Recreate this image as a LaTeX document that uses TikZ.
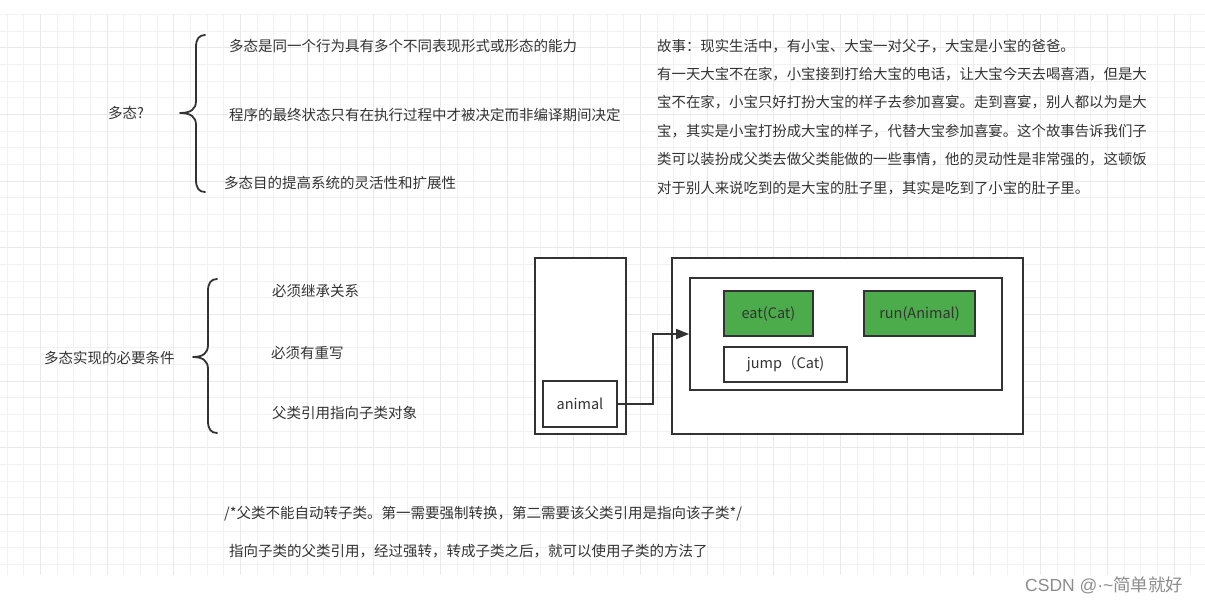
\documentclass[tikz,border=0pt]{standalone}
\usepackage{fontspec}
\setmainfont{Noto Sans CJK SC}
\newfontfamily\wmlatin{Liberation Sans}
\usetikzlibrary{arrows.meta}
\definecolor{txt}{HTML}{333333}
\definecolor{edge}{HTML}{333333}
\definecolor{gminor}{HTML}{F1F1F1}
\definecolor{gmajor}{HTML}{E9E9E9}
\definecolor{boxgreen}{RGB}{76,172,76}
\definecolor{wm}{HTML}{8C8C8C}
\tikzset{
  gridminor/.style={draw=gminor, line width=1pt},
  gridmajor/.style={draw=gmajor, line width=1pt},
  label/.style={anchor=west, inner sep=0pt, text=txt, font=\fontsize{14.5}{17}\selectfont},
  story/.style={anchor=west, inner sep=0pt, text=txt, font=\fontsize{14.4}{17}\selectfont},
  frame/.style={draw=edge, line width=1.8pt, fill=white, inner sep=0pt, text=txt, font=\fontsize{14.5}{17}\selectfont},
  greenbox/.style={frame, fill=boxgreen},
  bracepath/.style={draw=edge, line width=1.8pt, line cap=round, line join=round},
  link/.style={draw=edge, line width=1.8pt, -{Triangle[length=13pt,width=10pt]}},
}
\begin{document}
\begin{tikzpicture}[x=1pt,y=-1pt]
\useasboundingbox (0,0) rectangle (1205,606);
\fill[white] (0,0) rectangle (1205,606);
% grid
\foreach \k in {0,...,71} { \draw[gridminor] (7.3+16.667*\k,14) -- (7.3+16.667*\k,575); }
\foreach \k in {0,...,33} { \draw[gridminor] (0,14.5+16.667*\k) -- (1205,14.5+16.667*\k); }
\foreach \k in {2,6,...,70} { \draw[gridmajor] (7.3+16.667*\k,14) -- (7.3+16.667*\k,575); }
\foreach \k in {2,6,...,30} { \draw[gridmajor] (0,14.5+16.667*\k) -- (1205,14.5+16.667*\k); }

% section 1
\node[label] (q) at (108,113) {多态?};
\draw[bracepath] (205,35) .. controls (199,35) and (196,39) .. (196,47) -- (196,101)
  .. controls (196,109) and (191,113) .. (180,113)
  .. controls (191,113) and (196,117) .. (196,125) -- (196,180)
  .. controls (196,188) and (199,192) .. (205,192);
\node[label] (d1) at (229,46) {多态是同一个行为具有多个不同表现形式或形态的能力};
\node[label] (d2) at (229,115) {程序的最终状态只有在执行过程中才被决定而非编译期间决定};
\node[label] (d3) at (224,183) {多态目的提高系统的灵活性和扩展性};

% story
\node[story] (s1) at (657,46) {故事：现实生活中，有小宝、大宝一对父子，大宝是小宝的爸爸。};
\node[story] (s2) at (657,74) {有一天大宝不在家，小宝接到打给大宝的电话，让大宝今天去喝喜酒，但是大};
\node[story] (s3) at (657,102.5) {宝不在家，小宝只好打扮大宝的样子去参加喜宴。走到喜宴，别人都以为是大};
\node[story] (s4) at (657,131) {宝，其实是小宝打扮成大宝的样子，代替大宝参加喜宴。这个故事告诉我们子};
\node[story] (s5) at (657,159.5) {类可以装扮成父类去做父类能做的一些事情，他的灵动性是非常强的，这顿饭};
\node[story] (s6) at (657,188) {对于别人来说吃到的是大宝的肚子里，其实是吃到了小宝的肚子里。};

% section 2
\node[label] (cond) at (44,358) {多态实现的必要条件};
\draw[bracepath] (217,279) .. controls (211,279) and (208,283) .. (208,291) -- (208,345)
  .. controls (208,353) and (203,357) .. (193,357)
  .. controls (203,357) and (208,361) .. (208,369) -- (208,421)
  .. controls (208,429) and (211,433) .. (217,433);
\node[label] (c1) at (272,291) {必须继承关系};
\node[label] (c2) at (271,353) {必须有重写};
\node[label] (c3) at (272,413) {父类引用指向子类对象};

% memory diagram
\node[frame, minimum width=91pt, minimum height=176pt] (stack) at (580.5,346) {};
\node[frame, minimum width=74pt, minimum height=46pt] (animal) at (580,404) {animal};
\node[frame, minimum width=351pt, minimum height=176pt] (heap) at (847.5,346) {};
\node[frame, minimum width=312pt, minimum height=112pt] (inner) at (846,334) {};
\node[greenbox, minimum width=89pt, minimum height=45pt] (eat) at (768.5,313.5) {eat(Cat)};
\node[greenbox, minimum width=111pt, minimum height=45pt] (run) at (919.5,313.5) {run(Animal)};
\node[frame, minimum width=123pt, minimum height=35pt] (jump) at (785.5,364.5) {jump（Cat)};
\coordinate (bend) at (653,404);
\draw[link] (animal.east) -- (bend) |- (inner.west);

% bottom notes
\node[label] (n1) at (224,514) {/*父类不能自动转子类。第一需要强制转换，第二需要该父类引用是指向该子类*/};
\node[label] (n2) at (229,551) {指向子类的父类引用，经过强转，转成子类之后，就可以使用子类的方法了};

% watermark
\node[anchor=west, inner sep=0pt, text=wm, font=\fontsize{17.5}{20}\selectfont] (wmark) at (1025,585) {{\wmlatin CSDN @·\textasciitilde}简单就好};
\end{tikzpicture}
\end{document}
